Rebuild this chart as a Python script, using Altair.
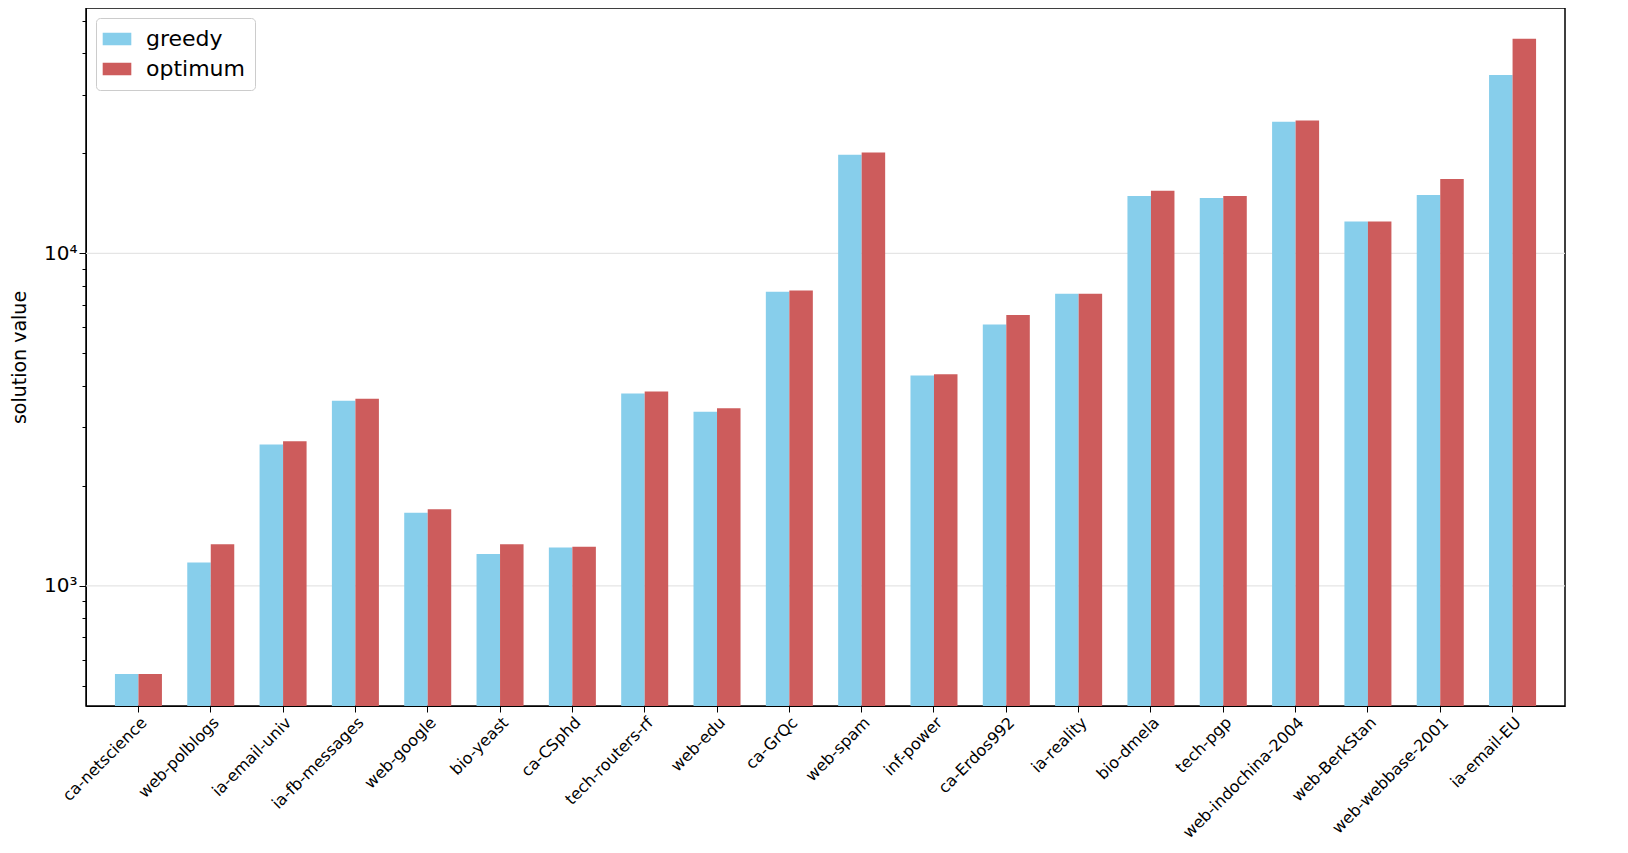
import pandas as pd
import altair as alt

graphs = ["ca-netscience", "web-polblogs", "ia-email-univ", "ia-fb-messages", "web-google",
          "bio-yeast", "ca-CSphd", "tech-routers-rf", "web-edu", "ca-GrQc", "web-spam",
          "inf-power", "ca-Erdos992", "ia-reality", "bio-dmela", "tech-pgp",
          "web-indochina-2004", "web-BerkStan", "web-webbase-2001", "ia-email-EU"]
greedy = [543, 1175, 2660, 3600, 1660, 1247, 1303, 3790, 3340, 7670, 19800,
          4290, 6110, 7560, 14880, 14660, 24900, 12470, 14990, 34400]
optimum = [543, 1333, 2720, 3650, 1700, 1333, 1310, 3840, 3420, 7730, 20100,
           4325, 6530, 7560, 15440, 14880, 25080, 12470, 16740, 44200]

df = pd.DataFrame({
    "graph": graphs * 2,
    "method": ["greedy"] * len(graphs) + ["optimum"] * len(graphs),
    "value": greedy + optimum,
})

ymin, ymax = 435, 54700
ticks = [500, 600, 700, 800, 900, 1000, 2000, 3000, 4000, 5000, 6000, 7000, 8000, 9000,
         10000, 20000, 30000, 40000, 50000]

bars = alt.Chart(df).mark_bar().encode(
    x=alt.X("graph:N", sort=graphs, title=None,
            scale=alt.Scale(paddingInner=0.35, paddingOuter=0.4),
            axis=alt.Axis(labelAngle=-45, labelAlign="right", labelBaseline="top",
                          labelFontSize=16, labelColor="black", tickColor="black",
                          domainColor="black", tickSize=6, labelPadding=2)),
    xOffset=alt.XOffset("method:N", sort=["greedy", "optimum"]),
    y=alt.Y("value:Q", title="solution value",
            scale=alt.Scale(type="log", domain=[ymin, ymax], nice=False),
            axis=alt.Axis(values=ticks, grid=False, labelFontSize=20, titleFontSize=19,
                          titleFontWeight="normal", titlePadding=14,
                          labelColor="black", titleColor="black", domainColor="black",
                          tickColor="black",
                          labelExpr="datum.value == 1000 ? '10³' : (datum.value == 10000 ? '10⁴' : '')",
                          tickSize={"condition": {"test": "datum.value == 1000 || datum.value == 10000",
                                                  "value": 7}, "value": 4})),
    y2=alt.datum(ymin),
    color=alt.Color("method:N", sort=["greedy", "optimum"],
                    scale=alt.Scale(domain=["greedy", "optimum"], range=["#87CEEB", "#CD5C5C"]),
                    legend=alt.Legend(title=None, orient="top-left", labelFontSize=22,
                                      symbolType="M-1.6,-0.7H1.6V0.7H-1.6Z", symbolSize=320,
                                      symbolOpacity=1, strokeColor="#cccccc", fillColor="white",
                                      padding=10, cornerRadius=4, rowPadding=8, labelOffset=18,
                                      offset=10, labelColor="black")),
)

grid = alt.Chart(pd.DataFrame({"g": [1000, 10000]})).mark_rule(
    color="#e5e5e5", strokeWidth=1.2).encode(y="g:Q")

chart = (grid + bars).properties(
    width=1608, height=835,
    autosize=alt.AutoSizeParams(type="fit", contains="padding"),
    padding={"left": 2, "top": 0, "right": 50, "bottom": 2}
).configure(font="DejaVu Sans").configure_view(stroke="black", strokeWidth=1.5)

chart.save("out.html", embed_options={"renderer": "svg", "actions": False})
